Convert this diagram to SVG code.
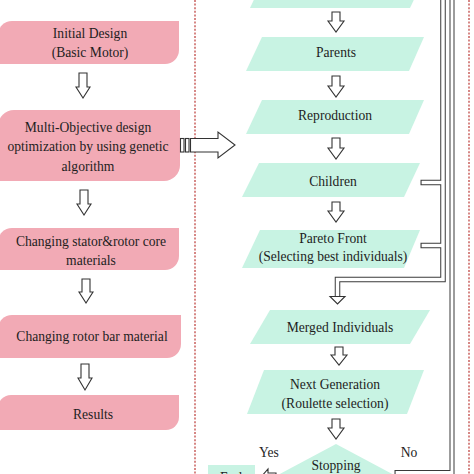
<svg xmlns="http://www.w3.org/2000/svg" width="474" height="474" viewBox="0 0 474 474">
<style>
.pk{fill:#f2aab5}
.mt{fill:#c8f3e3}
.t{font-family:"Liberation Serif","Times New Roman",serif;font-size:13.6px;fill:#1e1e1e;text-anchor:middle}
.ar{fill:#fff;stroke:#333;stroke-width:1.1;stroke-linejoin:miter}
.dash{stroke:#c9605e;stroke-width:1.5;stroke-dasharray:2 1.6;fill:none}
.pd{fill:none;stroke:#3a3a3a;stroke-width:5.5;stroke-linejoin:miter}
.pw{fill:none;stroke:#fff;stroke-width:3.5;stroke-linejoin:miter}
</style>
<rect width="474" height="474" fill="#fff"/>
<line class="dash" x1="195" y1="0" x2="195" y2="474"/>
<line class="dash" x1="469" y1="0" x2="469" y2="474"/>

<g id="box1"><path class="pk" d="M-2,35 A14,14 0 0 1 12,21 H179 V50 A14,14 0 0 1 165,64 H-2 Z"/>
<text class="t" x="90" y="38">Initial Design</text><text class="t" x="90" y="57">(Basic Motor)</text></g>
<g id="box2"><path class="pk" d="M-2,126 A16,16 0 0 1 14,110 H180 V165 A16,16 0 0 1 164,181 H-2 Z"/>
<text class="t" x="88" y="132">Multi-Objective design</text><text class="t" x="88" y="151">optimization by using genetic</text><text class="t" x="88" y="171">algorithm</text></g>
<g id="box3"><path class="pk" d="M-2,242 A14,14 0 0 1 12,228 H179 V256 A14,14 0 0 1 165,270 H-2 Z"/>
<text class="t" x="91" y="246">Changing stator&amp;rotor core</text><text class="t" x="91" y="265">materials</text></g>
<g id="box4"><path class="pk" d="M-2,329 A14,14 0 0 1 12,315 H181 V344 A14,14 0 0 1 167,358 H-2 Z"/>
<text class="t" x="92" y="341">Changing rotor bar material</text></g>
<g id="box5"><path class="pk" d="M-2,408 A13,13 0 0 1 11,395 H179 V417 A13,13 0 0 1 166,430 H-2 Z"/>
<text class="t" x="93" y="419">Results</text></g>

<g id="init"><polygon class="mt" points="266,-26 426,-26 410,8 250,8"/></g>
<g id="parents"><polygon class="mt" points="262,37 424,37 409,71 246,71"/><text class="t" x="336" y="57">Parents</text></g>
<g id="reproduction"><polygon class="mt" points="262,100 424,100 409,134 246,134"/><text class="t" x="335" y="120">Reproduction</text></g>
<g id="children"><polygon class="mt" points="259,163 420,163 404,197 242,197"/><text class="t" x="333" y="186">Children</text></g>
<g id="pareto"><polygon class="mt" points="260,230 420,230 404,268 242,268"/><text class="t" x="333" y="243">Pareto Front</text><text class="t" x="333" y="261">(Selecting best individuals)</text></g>
<g id="merged"><polygon class="mt" points="270,310 430,310 410,344 250,344"/><text class="t" x="340" y="332">Merged Individuals</text></g>
<g id="nextgen"><polygon class="mt" points="264,370 424,370 407,414 247,414"/><text class="t" x="335" y="389">Next Generation</text><text class="t" x="335" y="408">(Roulette selection)</text></g>
<g id="stopping"><polygon class="mt" points="336,444 396,476 336,508 276,476"/><text class="t" x="336" y="470">Stopping</text></g>
<g id="end"><rect class="mt" x="208" y="465" width="47" height="20"/><text class="t" x="231" y="482">End</text></g>

<g id="connectors">
<polygon class="ar" points="79,73 87,73 87,87 90,87 83,98 76,87 79,87"/>
<polygon class="ar" points="80,190 88,190 88,204 91,204 84,215 77,204 80,204"/>
<polygon class="ar" points="82,279 90,279 90,292 93,292 86,303 79,292 82,292"/>
<polygon class="ar" points="81,364 89,364 89,378 92,378 85,390 78,378 81,378"/>
<rect class="ar" x="180.5" y="138.5" width="3.5" height="13.5"/>
<rect class="ar" x="185.5" y="138.5" width="3.5" height="13.5"/>
<polygon class="ar" points="190.5,138.5 218,138.5 218,132 235,145 218,158 218,152 190.5,152"/>
<polygon class="ar" points="332,12 340,12 340,21 344,21 336,32 328,21 332,21"/>
<polygon class="ar" points="332,76 340,76 340,86 344,86 336,97 328,86 332,86"/>
<polygon class="ar" points="332,138 340,138 340,148 344,148 336,159 328,148 332,148"/>
<polygon class="ar" points="332,202 340,202 340,211 344,211 336,222 328,211 332,211"/>
<polygon class="ar" points="335,347 343,347 343,355 347,355 339,365 331,355 335,355"/>
<polygon class="ar" points="332,419 340,419 340,428 344,428 336,439 328,428 332,428"/>
<polygon class="ar" points="276,473 268,473 268,469 261,477 268,485 268,481 276,481"/>
<path class="pd" d="M443,-5 V279.5 H337.5 V297"/>
<path class="pd" d="M420.5,182.5 H443"/>
<path class="pd" d="M420.5,245.5 H443"/>
<path class="pw" d="M443,-6 V279.5 H337.5 V298"/>
<path class="pw" d="M421.6,182.5 H443"/>
<path class="pw" d="M421.6,245.5 H443"/>
<polygon class="ar" points="330,296.5 345,296.5 337.5,304"/>
<path class="pd" style="stroke-width:5" d="M394.5,472.5 H452 V-5"/>
<path class="pw" style="stroke-width:3" d="M395.6,472.5 H452 V-6"/>
</g>
<text class="t" x="269" y="457">Yes</text>
<text class="t" x="409" y="457">No</text>
</svg>
